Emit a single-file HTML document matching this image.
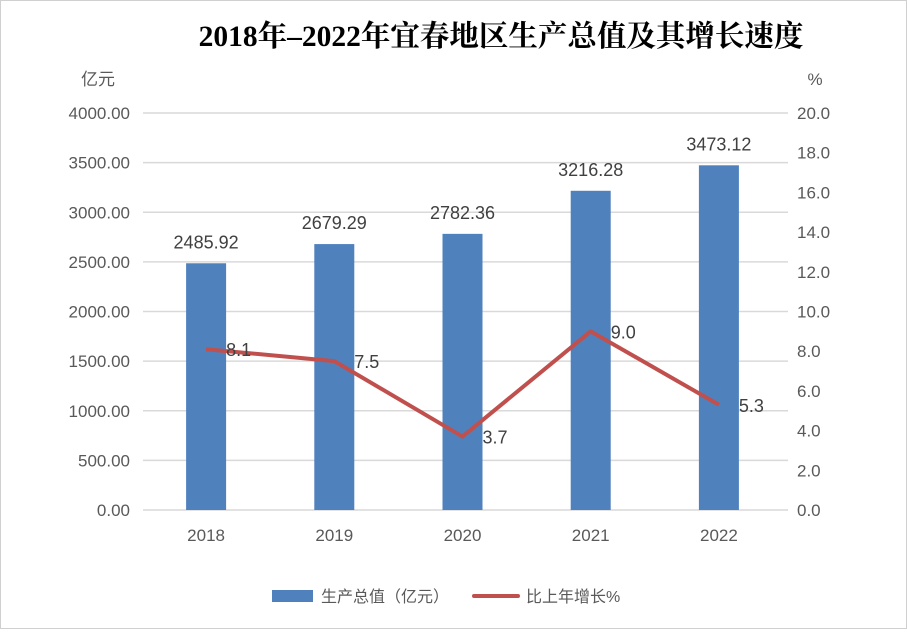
<!DOCTYPE html>
<html><head><meta charset="utf-8"><style>
body{margin:0;background:#fff}
svg text{font-family:"Liberation Sans","Noto Sans CJK SC",sans-serif}
</style></head><body>
<svg width="907" height="629" xmlns="http://www.w3.org/2000/svg">
<rect x="0.5" y="0.5" width="906" height="628" fill="#fff" stroke="#d0d0d0"/>
<text x="501" y="46" text-anchor="middle" font-size="29.5" font-weight="bold" style="font-family:'Liberation Serif','Noto Serif CJK SC',serif" fill="#000">2018年–2022年宜春地区生产总值及其增长速度</text>
<text x="98" y="85" text-anchor="middle" font-size="17" fill="#595959">亿元</text>
<text x="815" y="85" text-anchor="middle" font-size="17" fill="#595959">%</text>
<g id="grid"></g><g id="bars"></g><g id="line"></g><g id="labels"></g>
<rect x="272" y="590" width="41" height="12" fill="#4f81bd"/>
<text x="321" y="602" font-size="16" fill="#595959">生产总值（亿元）</text>
<line x1="474" y1="596" x2="518" y2="596" stroke="#c0504d" stroke-width="4" stroke-linecap="round"/>
<text x="526" y="602" font-size="16" fill="#595959">比上年增长%</text>
</svg>
<script>
const categories=["2018","2019","2020","2021","2022"];
const gdpValues=[2485.92,2679.29,2782.36,3216.28,3473.12];
const growthValues=[8.1,7.5,3.7,9.0,5.3];
const leftTicks=[0,500,1000,1500,2000,2500,3000,3500,4000];
const rightTicks=[0,2,4,6,8,10,12,14,16,18,20];
const NS="http://www.w3.org/2000/svg";
const x0=142,x1=783,gx1=788,y0=510,y1=113;
const bw=(x1-x0)/categories.length;
const yL=v=>y0-(v/4000)*(y0-y1);
const yR=v=>y0-(v/20)*(y0-y1);
const xC=i=>x0+bw*(i+0.5);
function mk(tag,attrs,parent,text){const e=document.createElementNS(NS,tag);for(const k in attrs)e.setAttribute(k,attrs[k]);if(text!==undefined)e.textContent=text;document.getElementById(parent).appendChild(e);return e;}
leftTicks.forEach(t=>{
 const l=mk('line',{x1:143,x2:gx1,y1:yL(t),y2:yL(t),stroke:'#d9d9d9','stroke-width':1.5},'grid');
 
 
 const tx=mk('text',{x:130,y:yL(t)+6,'text-anchor':'end','font-size':17,fill:'#595959'},'grid',t.toFixed(2));
 
 
});
rightTicks.forEach(t=>{
 const tx=mk('text',{x:797,y:yR(t)+6,'font-size':17,fill:'#595959'},'grid',t.toFixed(1));
 
 
});
categories.forEach((c,i)=>{
 const tx=mk('text',{x:xC(i),y:541,'text-anchor':'middle','font-size':17,fill:'#595959'},'grid',c);
 
 
 const b=mk('rect',{x:xC(i)-20,y:yL(gdpValues[i]),width:40,height:y0-yL(gdpValues[i]),fill:'#4f81bd'},'bars');
 
 
 const bl=mk('text',{x:xC(i),y:yL(gdpValues[i])-15,'text-anchor':'middle','font-size':18,fill:'#404040'},'labels',gdpValues[i].toFixed(2));
 
 
 const ll=mk('text',{x:xC(i)+20,y:yR(growthValues[i])+7,'font-size':18,fill:'#404040'},'labels',growthValues[i].toFixed(1));
 
 
});
const p=mk('polyline',{points:growthValues.map((v,i)=>xC(i)+','+yR(v)).join(' '),fill:'none',stroke:'#c0504d','stroke-width':4,'stroke-linejoin':'round'},'line');


</script>
</body></html>
